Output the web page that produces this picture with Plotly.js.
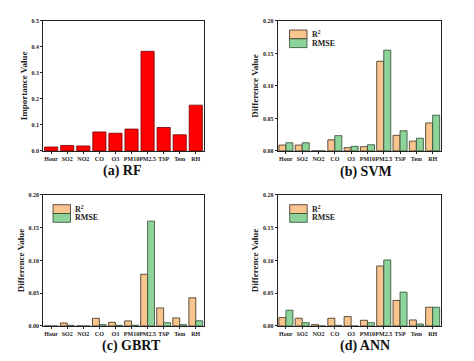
<!DOCTYPE html>
<html><head><meta charset="utf-8">
<script src="https://cdn.plot.ly/plotly-3.0.1.min.js"></script>
<style>body{margin:0;background:#fff}#c{width:474px;height:361px}</style>
</head><body><div id="c"></div>
<script>
const categories = ["Hour","SO2","NO2","CO","O3","PM10","PM2.5","TSP","Tem","RH"];
const rfImportance = [0.015,0.021,0.019,0.073,0.068,0.084,0.383,0.090,0.062,0.176];
const svmR2   = [0.009,0.009,0.000,0.017,0.005,0.0065,0.138,0.024,0.015,0.043];
const svmRMSE = [0.0125,0.0125,0.000,0.0235,0.007,0.0095,0.155,0.031,0.0195,0.055];
const gbrtR2   = [0.000,0.0046,0.000,0.0118,0.0056,0.0077,0.079,0.0276,0.0123,0.043];
const gbrtRMSE = [0.000,0.001,0.000,0.002,0.001,0.0012,0.160,0.005,0.002,0.008];
const annR2   = [0.0128,0.0118,0.002,0.0118,0.0143,0.0087,0.0916,0.039,0.0092,0.0286];
const annRMSE = [0.024,0.005,0.000,0.001,0.000,0.005,0.1008,0.0517,0.003,0.0286];
const panelTitles = ["(a) RF","(b) SVM","(c) GBRT","(d) ANN"];
const seriesNames = ["R<sup>2</sup>","RMSE"];

const W = 474, H = 361;
const serif = "'Liberation Serif', 'Times New Roman', serif";
const orange = "#F8C58F", green = "#8ED39A", red = "#FF0000";
const orangeLine = "#3a2a1a", greenLine = "#2e4a33";
const tickFont = {family: serif, size: 6, color: "#222", weight: "bold"};

const traces = [];
traces.push({type:"bar", x:categories, y:rfImportance, xaxis:"x", yaxis:"y",
  marker:{color:red, line:{color:"#7a0000", width:0.8}}, showlegend:false, width:0.82});
const pairs = [[svmR2,svmRMSE,"x2","y2"],[gbrtR2,gbrtRMSE,"x3","y3"],[annR2,annRMSE,"x4","y4"]];
pairs.forEach(([r2,rmse,xa,ya])=>{
  traces.push({type:"bar", name:seriesNames[0], x:categories, y:r2, xaxis:xa, yaxis:ya, showlegend:false,
    marker:{color:orange, line:{color:orangeLine, width:0.8}}});
  traces.push({type:"bar", name:seriesNames[1], x:categories, y:rmse, xaxis:xa, yaxis:ya, showlegend:false,
    marker:{color:green, line:{color:greenLine, width:0.8}}});
});

function xax(dom, anchor){
  return {domain:dom, anchor:anchor, showline:true, linecolor:"#222", linewidth:1, mirror:true,
    ticks:"outside", ticklen:2, tickcolor:"#222", tickfont:tickFont, automargin:false,
    tickangle:0, fixedrange:true};
}
function yax(dom, anchor, range, dtick, fmt, title){
  return {domain:dom, anchor:anchor, range:range, dtick:dtick, tickformat:fmt,
    showline:true, linecolor:"#222", linewidth:1, mirror:true, ticks:"outside", ticklen:2,
    tickcolor:"#222", tickfont:tickFont, showgrid:false, zeroline:false, automargin:false,
    title:{text:title, font:{family:serif, size:9, color:"#222", weight:"bold"}, standoff:2}};
}
const leftX=[0.091,0.430], rightX=[0.586,0.930];
const topY=[0.582,0.942], botY=[0.097,0.460];

const annotations = [
  [122.5,170.5,panelTitles[0]],[365.5,171.5,panelTitles[1]],
  [131.5,345.5,panelTitles[2]],[364.5,345.5,panelTitles[3]]
].map(([x,y,t])=>({x:x/W, y:1-y/H, xref:"paper", yref:"paper", xanchor:"center", yanchor:"middle",
  text:t, showarrow:false, font:{family:serif, size:14, color:"#111", weight:"bold"}}));

// manual legends (swatch rectangles + labels), positions in pixels
const shapes = [];
[[289.5,30],[53,204.7],[289.7,204.7]].forEach(([lx,ly])=>{
  const sw = 17.5, sh = 8.8;
  [[orange,orangeLine,0],[green,greenLine,1]].forEach(([fc,lc,i])=>{
    const y0 = ly + i*sh;
    shapes.push({type:"rect", xref:"paper", yref:"paper",
      x0:lx/W, x1:(lx+sw)/W, y0:1-y0/H, y1:1-(y0+sh)/H,
      fillcolor:fc, line:{color:lc, width:0.8}});
    annotations.push({x:(lx+sw+2.5)/W, y:1-(y0+sh/2)/H, xref:"paper", yref:"paper",
      xanchor:"left", yanchor:"middle", text:seriesNames[i], showarrow:false,
      font:{family:serif, size:8, color:"#222", weight:"bold"}});
  });
});

const layout = {
  width:W, height:H, margin:{l:0,r:0,t:0,b:0}, paper_bgcolor:"#fff", plot_bgcolor:"#fff",
  barmode:"group", bargap:0.14, bargroupgap:0, showlegend:false,
  xaxis:xax(leftX,"y"), yaxis:yax(topY,"x",[0,0.5],0.1,".1f","Importance Value"),
  xaxis2:xax(rightX,"y2"), yaxis2:yax(topY,"x2",[0,0.2],0.05,".2f","Difference Value"),
  xaxis3:xax(leftX,"y3"), yaxis3:yax(botY,"x3",[0,0.2],0.05,".2f","Difference Value"),
  xaxis4:xax(rightX,"y4"), yaxis4:yax(botY,"x4",[0,0.2],0.05,".2f","Difference Value"),
  annotations:annotations, shapes:shapes
};
Plotly.newPlot("c", traces, layout, {staticPlot:true, displayModeBar:false});
</script></body></html>
